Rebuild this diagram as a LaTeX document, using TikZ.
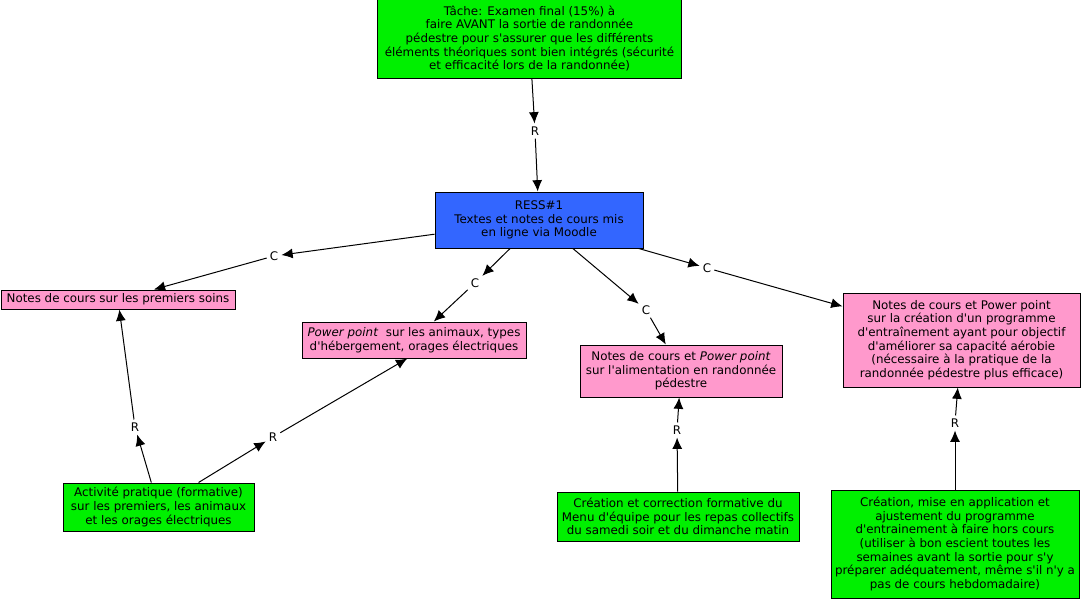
\documentclass[tikz,border=0pt]{standalone}
\usepackage{fontspec}
\setmainfont{DejaVu Sans}[Ligatures=TeXOff]
\usetikzlibrary{arrows.meta}
\definecolor{gbox}{HTML}{00F000}
\definecolor{pbox}{HTML}{FF99CC}
\definecolor{bbox}{HTML}{3366FF}
\tikzset{
  box/.style={draw=black, line width=0.75pt, inner sep=0pt, align=center,
    font=\fontsize{8.9}{10.2}\selectfont},
  lbl/.style={inner sep=2.2pt, font=\fontsize{8.9}{10.2}\selectfont},
  conn/.style={line width=0.75pt, -{Latex[length=8.5pt,width=7.5pt]}}
}
\begin{document}
\begin{tikzpicture}[x=0.75pt,y=-0.75pt]
\useasboundingbox (0,0) rectangle (1085,600);
% boxes
\node[box, fill=gbox, minimum width=304*0.75pt, minimum height=79*0.75pt] (top) at (529.5,38.5)
 {Tâche: Examen final (15\%) à\\faire AVANT la sortie de randonnée\\pédestre pour s'assurer que les différents\\éléments théoriques sont bien intégrés (sécurité\\et efficacité lors de la randonnée)};
\node[box, fill=bbox, minimum width=208*0.75pt, minimum height=56*0.75pt] (ress) at (539,220)
 {RESS\#1\\Textes et notes de cours mis\\en ligne via Moodle};
\node[box, fill=pbox, minimum width=234*0.75pt, minimum height=19*0.75pt] (soins) at (118,299.5)
 {Notes de cours sur les premiers soins};
\node[box, fill=pbox, minimum width=224*0.75pt, minimum height=36*0.75pt] (pp) at (414,340)
 {\textit{Power point}\ \ sur les animaux, types\\d'hébergement, orages électriques};
\node[box, fill=pbox, minimum width=202*0.75pt, minimum height=52*0.75pt] (alim) at (681,371)
 {Notes de cours et \textit{Power point}\\sur l'alimentation en randonnée\\pédestre};
\node[box, fill=pbox, minimum width=237*0.75pt, minimum height=94*0.75pt] (rpink) at (961.5,340)
 {Notes de cours et Power point\\sur la création d'un programme\\d'entraînement ayant pour objectif\\d'améliorer sa capacité aérobie\\(nécessaire à la pratique de la\\randonnée pédestre plus efficace)};
\node[box, fill=gbox, minimum width=191*0.75pt, minimum height=48*0.75pt] (act) at (158.5,507)
 {Activité pratique (formative)\\sur les premiers, les animaux\\et les orages électriques};
\node[box, fill=gbox, minimum width=242*0.75pt, minimum height=49*0.75pt] (menu) at (678,516.5)
 {Création et correction formative du\\Menu d'équipe pour les repas collectifs\\du samedi soir et du dimanche matin};
\node[box, fill=gbox, minimum width=248*0.75pt, minimum height=108*0.75pt] (rgreen) at (955,544)
 {Création, mise en application et\\ajustement du programme\\d'entrainement à faire hors cours\\(utiliser à bon escient toutes les\\semaines avant la sortie pour s'y\\préparer adéquatement, même s'il n'y a\\pas de cours hebdomadaire)};
% labels
\node[lbl] (l1) at (535,131) {R};
\node[lbl] (l2) at (274,256) {C};
\node[lbl] (l3) at (475,283) {C};
\node[lbl] (l4) at (646,310) {C};
\node[lbl] (l5) at (707,268) {C};
\node[lbl] (l6) at (135,427) {R};
\node[lbl] (l7) at (273,437) {R};
\node[lbl] (l8) at (677,430) {R};
\node[lbl] (l9) at (955,423) {R};
% connectors
\draw[conn] (top) -- (l1);
\draw[conn] (l1) -- (ress);
\draw[conn] (ress) -- (l2);
\draw[conn] (l2) -- (soins);
\draw[conn] (ress) -- (l3);
\draw[conn] (l3) -- (pp);
\draw[conn] (ress) -- (l4);
\draw[conn] (l4) -- (alim);
\draw[conn] (ress) -- (l5);
\draw[conn] (l5) -- (rpink);
\draw[conn] (act) -- (l6);
\draw[conn] (l6) -- (soins);
\draw[conn] (act) -- (l7);
\draw[conn] (l7) -- (pp.250);
\draw[conn] (menu) -- (l8);
\draw[conn] (l8) -- (alim);
\draw[conn] (rgreen) -- (l9);
\draw[conn] (l9) -- (rpink);
\end{tikzpicture}
\end{document}
